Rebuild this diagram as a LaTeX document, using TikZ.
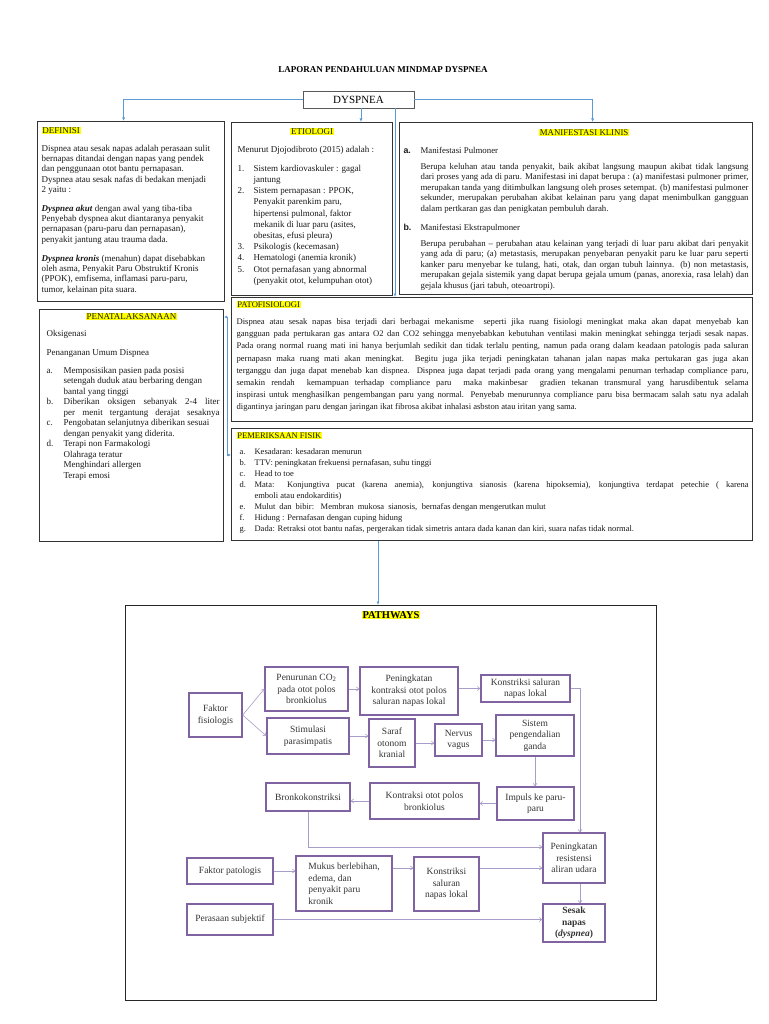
\documentclass[tikz,border=0pt]{standalone}
\usepackage{fontspec}
\setmainfont{Liberation Serif}
\newfontfamily\labelsans{Liberation Sans}
\usepackage{xcolor}
\usepackage{tikz}
\usetikzlibrary{positioning, arrows.meta, calc}

\definecolor{linkblue}{HTML}{5B9BD5}
\definecolor{pwpurple}{HTML}{8064A2}
\definecolor{pwarrow}{HTML}{A89CC8}
\definecolor{hlyellow}{HTML}{FFFF00}

\newcommand{\hilite}[1]{{\setlength{\fboxsep}{0.8pt}\colorbox{hlyellow}{#1}}}
\newcommand{\fline}[2][0pt]{\hbox to\hsize{\hskip#1\relax#2}}
\newcommand{\rline}[2][0pt]{\hbox to\hsize{\hskip#1\relax#2\hfil}}
\newcommand{\mline}[2][0pt]{\hbox to\hsize{\hfil\hskip#1\relax#2\hfil}}

\begin{document}
\begin{tikzpicture}[x=1pt, y=-1pt,
  font=\fontsize{9}{10.5}\selectfont,
  panel/.style={draw=black!80, line width=1.2pt, anchor=north west,
    inner xsep=4pt, inner ysep=3pt, text=black!90},
  root/.style={draw=black!65, line width=0.8pt, minimum width=111pt,
    minimum height=17pt, inner sep=0pt, font=\fontsize{11}{12}\selectfont},
  pbox/.style={draw=pwpurple, line width=1.4pt, align=center, inner sep=1pt,
    text=black!80, font=\fontsize{9.5}{11.5}\selectfont},
  link/.style={draw=linkblue, line width=0.7pt, -{Latex[length=3.5pt,width=3pt]}},
  parrow/.style={draw=pwarrow, line width=0.6pt, -{Straight Barb[length=2.5pt,width=4pt]}},
]
  \useasboundingbox (0,0) rectangle (768,1024);

  \node[font=\bfseries\fontsize{9}{11}\selectfont] (title) at (383,70) {LAPORAN PENDAHULUAN MINDMAP DYSPNEA};
  \node[root] (dys) at (358.5,99.5) {DYSPNEA};

  \node[panel] (defn) at (37,121) {\parbox[t][174pt][t]{179pt}{\fontsize{9}{10.3}\selectfont\vspace*{2pt}
    \rline{\hilite{DEFINISI}}\vspace{7.7pt}
    \rline{Dispnea atau sesak napas adalah perasaan sulit}
    \rline{bernapas ditandai dengan napas yang pendek}
    \rline{dan penggunaan otot bantu pernapasan.}
    \rline{Dyspnea atau sesak nafas di bedakan menjadi}
    \rline{2 yaitu :}\vspace{8.5pt}
    \rline{\textbf{\textit{Dyspnea akut}} dengan awal yang tiba-tiba}
    \rline{Penyebab dyspnea akut diantaranya penyakit}
    \rline{pernapasan (paru-paru dan pernapasan),}
    \rline{penyakit jantung atau trauma dada.}\vspace{8.7pt}
    \rline{\textbf{\textit{Dyspnea kronis}} (menahun) dapat disebabkan}
    \rline{oleh asma, Penyakit Paru Obstruktif Kronis}
    \rline{(PPOK), emfisema, inflamasi paru-paru,}
    \rline{tumor, kelainan pita suara.}}};

  \node[panel] (pena) at (39,309) {\parbox[t][226pt][t]{176pt}{\fontsize{9}{10.5}\selectfont
    \mline{\hilite{PENATALAKSANAAN}}\vspace{6.5pt}
    \rline[3pt]{Oksigenasi}\vspace{8.5pt}
    \rline[3pt]{Penanganan Umum Dispnea}\vspace{7.5pt}
    \rline[3pt]{\makebox[17pt][l]{a.}Memposisikan pasien pada posisi}
    \rline[20pt]{setengah duduk atau berbaring dengan}
    \rline[20pt]{bantal yang tinggi}
    \fline[3pt]{\makebox[17pt][l]{b.}Diberikan oksigen sebanyak 2-4 liter}
    \fline[20pt]{per menit tergantung derajat sesaknya}
    \rline[3pt]{\makebox[17pt][l]{c.}Pengobatan selanjutnya diberikan sesuai}
    \rline[20pt]{dengan penyakit yang diderita.}
    \rline[3pt]{\makebox[17pt][l]{d.}Terapi non Farmakologi}
    \rline[20pt]{Olahraga teratur}
    \rline[20pt]{Menghindari allergen}
    \rline[20pt]{Terapi emosi}}};

  \node[panel] (etio) at (231,122) {\parbox[t][167pt][t]{153pt}{\fontsize{9}{11.2}\selectfont\vspace*{2pt}
    \mline{\hilite{ETIOLOGI}}\vspace{6.8pt}
    \rline[2pt]{Menurut Djojodibroto (2015) adalah :}\vspace{7.8pt}
    \rline[2pt]{\makebox[16pt][l]{1.}Sistem kardiovaskuler : gagal}
    \rline[18pt]{jantung}
    \rline[2pt]{\makebox[16pt][l]{2.}Sistem pernapasan : PPOK,}
    \rline[18pt]{Penyakit parenkim paru,}
    \rline[18pt]{hipertensi pulmonal, faktor}
    \rline[18pt]{mekanik di luar paru (asites,}
    \rline[18pt]{obesitas, efusi pleura)}
    \rline[2pt]{\makebox[16pt][l]{3.}Psikologis (kecemasan)}
    \rline[2pt]{\makebox[16pt][l]{4.}Hematologi (anemia kronik)}
    \rline[2pt]{\makebox[16pt][l]{5.}Otot pernafasan yang abnormal}
    \rline[18pt]{(penyakit otot, kelumpuhan otot)}}};

  \node[panel] (mani) at (399,122) {\parbox[t][166pt][t]{345pt}{\fontsize{8.8}{10.5}\selectfont\vspace*{3pt}
    \mline[16pt]{\hilite{MANIFESTASI KLINIS}}\vspace{7.5pt}
    \rline{\makebox[17pt][l]{\labelsans\bfseries a.}Manifestasi Pulmoner}\vspace{5.5pt}
    \fline[17pt]{Berupa keluhan atau tanda penyakit, baik akibat langsung maupun akibat tidak langsung}
    \fline[17pt]{dari proses yang ada di paru. Manifestasi ini dapat berupa : (a) manifestasi pulmoner primer,}
    \fline[17pt]{merupakan tanda yang ditimbulkan langsung oleh proses setempat. (b) manifestasi pulmoner}
    \fline[17pt]{sekunder, merupakan perubahan akibat kelainan paru yang dapat menimbulkan gangguan}
    \rline[17pt]{dalam pertkaran gas dan penigkatan pembuluh darah.}\vspace{8.5pt}
    \rline{\makebox[17pt][l]{\labelsans\bfseries b.}Manifestasi Ekstrapulmoner}\vspace{5.5pt}
    \fline[17pt]{Berupa perubahan -- perubahan atau kelainan yang terjadi di luar paru akibat dari penyakit}
    \fline[17pt]{yang ada di paru; (a) metastasis, merupakan penyebaran penyakit paru ke luar paru seperti}
    \fline[17pt]{kanker paru menyebar ke tulang, hati, otak, dan organ tubuh lainnya. (b) non metastasis,}
    \fline[17pt]{merupakan gejala sistemik yang dapat berupa gejala umum (panas, anorexia, rasa lelah) dan}
    \rline[17pt]{gejala khusus (jari tabuh, oteoartropi).}}};

  \node[panel] (pato) at (231,297) {\parbox[t][118pt][t]{513pt}{\fontsize{8.6}{12.2}\selectfont\vspace*{0.5pt}
    \rline[1pt]{\hilite{PATOFISIOLOGI}}\vspace{4.8pt}
    \fline[1pt]{Dispnea atau sesak napas bisa terjadi dari berbagai mekanisme \ seperti jika ruang fisiologi meningkat maka akan dapat menyebab kan}
    \fline[1pt]{gangguan pada pertukaran gas antara O2 dan CO2 sehingga menyebabkan kebutuhan ventilasi makin meningkat sehingga terjadi sesak napas.}
    \fline[1pt]{Pada orang normal ruang mati ini hanya berjumlah sedikit dan tidak terlalu penting, namun pada orang dalam keadaan patologis pada saluran}
    \fline[1pt]{pernapasn maka ruang mati akan meningkat. Begitu juga jika terjadi peningkatan tahanan jalan napas maka pertukaran gas juga akan}
    \fline[1pt]{terganggu dan juga dapat menebab kan dispnea. Dispnea juga dapat terjadi pada orang yang mengalami penurnan terhadap compliance paru,}
    \fline[1pt]{semakin rendah \ kemampuan terhadap compliance paru \ maka makinbesar \ gradien tekanan transmural yang harusdibentuk selama}
    \fline[1pt]{inspirasi untuk menghasilkan pengembangan paru yang normal. Penyebab menurunnya compliance paru bisa bermacam salah satu nya adalah}
    \rline[1pt]{digantinya jaringan paru dengan jaringan ikat fibrosa akibat inhalasi asbston atau iritan yang sama.}}};

  \node[panel] (pemf) at (231,428) {\parbox[t][106pt][t]{513pt}{\fontsize{8.5}{11}\selectfont
    \rline[1pt]{\hilite{PEMERIKSAAN FISIK}}\vspace{5pt}
    \rline[4pt]{\makebox[15pt][l]{a.}Kesadaran: kesadaran menurun}
    \rline[4pt]{\makebox[15pt][l]{b.}TTV: peningkatan frekuensi pernafasan, suhu tinggi}
    \rline[4pt]{\makebox[15pt][l]{c.}Head to toe}
    \fline[4pt]{\makebox[15pt][l]{d.}Mata: Konjungtiva pucat (karena anemia), konjungtiva sianosis (karena hipoksemia), konjungtiva terdapat petechie ( karena}
    \rline[19pt]{emboli atau endokarditis)}
    \rline[4pt]{\makebox[15pt][l]{e.}\hbox to 196pt{Mulut dan bibir: Membran mukosa sianosis, bernafas} dengan mengerutkan mulut}
    \rline[4pt]{\makebox[15pt][l]{f.}Hidung : Pernafasan dengan cuping hidung}
    \rline[4pt]{\makebox[15pt][l]{g.}Dada: Retraksi otot bantu nafas, pergerakan tidak simetris antara dada kanan dan kiri, suara nafas tidak normal.}}};

  \draw[link] (dys.west) -| ([xshift=-7.5pt]defn.north);
  \draw[link] (dys.east) -| ([xshift=16.5pt]mani.north);
  \draw[link] ([xshift=2.5pt]dys.south) -- ([xshift=2.5pt]dys.south |- etio.north);
  \coordinate (gapx) at (395,0);
  \draw[link] (dys.south -| gapx) -- (pato.north -| gapx);
  \coordinate (sidetop) at (227,317);
  \coordinate (sidebot) at (227,455);
  \draw[link, {Latex[length=3pt,width=3pt]}-{Latex[length=3pt,width=3pt]}]
    (pena.east |- sidetop) -- (sidetop) -- (sidebot) -- (pemf.west |- sidebot);

  \node[draw=black!85, line width=0.8pt, anchor=north west, minimum width=531pt,
    minimum height=395pt, inner sep=0pt] (pw) at (125,605) {};
  \node[font=\bfseries\fontsize{10.5}{12}\selectfont] (pwtitle) at (391,615) {\hilite{PATHWAYS}};
  \coordinate (downx) at (378,0);
  \draw[link] (pemf.south -| downx) -- (pw.north -| downx);

  \node[pbox, minimum width=53pt, minimum height=44pt] (ff) at (215.5,715) {Faktor\\fisiologis};
  \node[pbox, minimum width=83pt, minimum height=44pt] (pco) at (306.5,689) {Penurunan CO\textsubscript{2}\\pada otot polos\\bronkiolus};
  \node[pbox, minimum width=98pt, minimum height=48pt] (pko) at (409,691) {Peningkatan\\kontraksi otot polos\\saluran napas lokal};
  \node[pbox, minimum width=89pt, minimum height=27pt] (ksl) at (525.5,688.5) {Konstriksi saluran\\napas lokal};
  \node[pbox, minimum width=82pt, minimum height=36pt] (stm) at (308,736) {Stimulasi\\parasimpatis};
  \node[pbox, minimum width=46pt, minimum height=48pt] (sok) at (392,743) {Saraf\\otonom\\kranial};
  \node[pbox, minimum width=47pt, minimum height=32pt] (nv) at (458.5,740) {Nervus\\vagus};
  \node[pbox, minimum width=78pt, minimum height=41pt] (spg) at (535,735.5) {Sistem\\pengendalian\\ganda};
  \node[pbox, minimum width=77pt, minimum height=33pt] (imp) at (535.5,803.5) {Impuls ke paru-\\paru};
  \node[pbox, minimum width=109pt, minimum height=36pt] (kob) at (424.5,801) {Kontraksi otot polos\\bronkiolus};
  \node[pbox, minimum width=84pt, minimum height=28pt] (bk) at (308,797) {Bronkokonstriksi};
  \node[pbox, minimum width=62pt, minimum height=50pt] (pra) at (574,858) {Peningkatan\\resistensi\\aliran udara};
  \node[pbox, minimum width=86pt, minimum height=26pt] (fp) at (230,871) {Faktor patologis};
  \node[pbox, align=left, minimum width=96pt, minimum height=55pt] (mk) at (344,883.5) {Mukus berlebihan,\\edema, dan\\penyakit paru\\kronik};
  \node[pbox, minimum width=65pt, minimum height=54pt] (ks2) at (446.5,884) {Konstriksi\\saluran\\napas lokal};
  \node[pbox, minimum width=86pt, minimum height=31pt] (ps) at (230,919.5) {Perasaan subjektif};
  \node[pbox, font=\bfseries\fontsize{9.5}{11.5}\selectfont, minimum width=62pt, minimum height=38pt] (sn) at (574,923) {Sesak\\napas\\(\textit{dyspnea})};

  \draw[parrow] (ff.east) -- (pco.west);
  \draw[parrow] (ff.east) -- (stm.west);
  \draw[parrow] (pco.east) -- (pco.east -| pko.west);
  \draw[parrow] (pko.east |- ksl) -- (ksl.west);
  \foreach \a/\b in {stm/sok, sok/nv, nv/spg}{
    \draw[parrow] (\a.east) -- (\a.east -| \b.west);
  }
  \draw[parrow] (spg.south) -- (spg.south |- imp.north);
  \draw[parrow] (imp.west) -- (imp.west -| kob.east);
  \draw[parrow] (kob.west) -- (kob.west -| bk.east);
  \draw[parrow] (bk.south) |- ([yshift=11pt]pra.west);
  \draw[parrow] (ksl.east) -| ([xshift=6pt]pra.north);
  \draw[parrow] (fp.east) -- (fp.east -| mk.west);
  \coordinate (row) at (0,868);
  \draw[parrow] (mk.east |- row) -- (ks2.west |- row);
  \draw[parrow] (ks2.east |- row) -- (pra.west |- row);
  \draw[parrow] ([xshift=6pt]pra.south) -- ([xshift=6pt]sn.north);
  \draw[parrow] (ps.east) -- (ps.east -| sn.west);
\end{tikzpicture}
\end{document}
